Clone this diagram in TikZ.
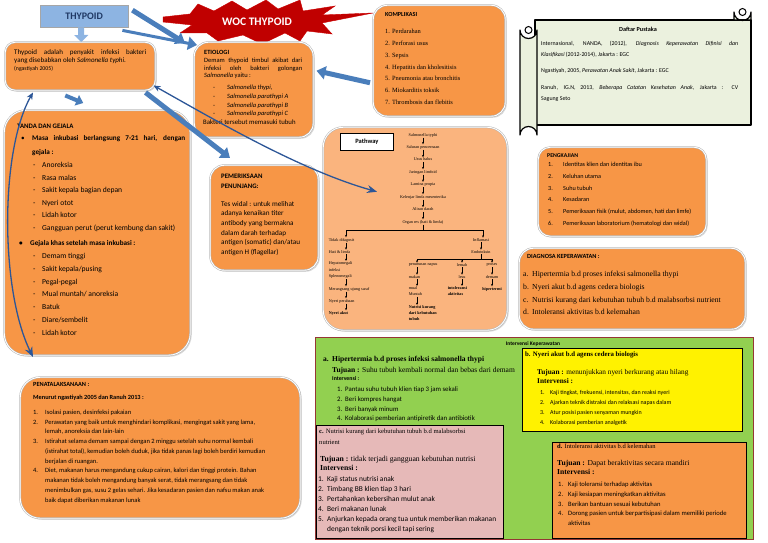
\documentclass[tikz,border=0pt]{standalone}
\usepackage{fontspec}
\setmainfont{Carlito}
\newfontfamily\tnr{Liberation Serif}
\usetikzlibrary{arrows.meta,calc,shadows}
\definecolor{orb}{HTML}{F79646}
\definecolor{orl}{HTML}{FAB47E}
\definecolor{grn}{HTML}{92D050}
\definecolor{pnk}{HTML}{E6B9B8}
\definecolor{scr}{HTML}{EBF1DE}
\definecolor{lblue}{HTML}{8DB4E2}
\definecolor{navy}{HTML}{1F3864}
\definecolor{ablue}{HTML}{4A7EBB}
\definecolor{dblue}{HTML}{2C5697}
\definecolor{wred}{HTML}{C00000}
\definecolor{frame}{HTML}{953735}
\newcommand{\myfs}[2]{\fontsize{#1}{#2}\selectfont}
\begin{document}
\begin{tikzpicture}[x=1pt,y=-1pt,
 obox/.style={draw=black!30, double=white, double distance=0.9pt, line width=0.5pt, fill=orb, rounded corners=#1, drop shadow={opacity=0.3,shadow xshift=1.5pt,shadow yshift=-1.5pt}, inner sep=0pt, anchor=north west},
 obox/.default=12pt,
 sbox/.style={draw=black, line width=0.8pt, inner sep=0pt, anchor=north west},
 tx/.style={anchor=north west, inner sep=0pt, align=left},
 blk/.style={line width=5pt, draw=ablue, -{Triangle[length=9pt,width=13pt]}},
 lbar/.style={line width=6pt, draw=lblue, -{Triangle[length=7pt,width=14pt]}},
 curv/.style={draw=dblue, line width=1.3pt, {Stealth[length=7pt,width=6pt]}-{Stealth[length=10pt,width=8pt]}},
 pw/.style={font=\tnr\myfs{4.2}{4.8}, inner sep=0.6pt, align=center},
 pwb/.style={font=\tnr\bfseries\myfs{4.2}{6}, inner sep=0.6pt, align=left},
 pa/.style={-{Stealth[length=2.4pt,width=2pt]}, line width=0.45pt},
 pl/.style={line width=0.45pt},
 scroll/.style={fill=scr, draw=black, line width=1.2pt, line join=round}
]
\useasboundingbox (0,0) rectangle (768,543);

% ---------- title boxes
\node[draw=black!35, fill=lblue, minimum width=88pt, minimum height=22pt, inner sep=0pt, anchor=north west, font=\bfseries\myfs{10}{12}, text=navy] (thy) at (40,5) {THYPOID};
\fill[wred, draw=red!80!black, line width=0.4pt] (163,17) -- (190,14) -- (198,4) -- (214,11) -- (232,1) -- (247,10) -- (266,0) -- (278,9) -- (300,0) -- (303,11) -- (335,6) -- (322,15) -- (373,13) -- (322,23) -- (332,34) -- (307,31) -- (300,41) -- (285,33) -- (262,44) -- (243,35) -- (218,41) -- (207,33) -- (180,33) -- (192,25) -- (163,22) -- cycle;
\node[font=\bfseries\myfs{11.5}{13}, text=white, inner sep=0pt] (woc) at (257,22) {WOC THYPOID};

% ---------- orange boxes
\node[obox=10pt, minimum width=150pt, minimum height=48pt] (def) at (5,42) {};
\node[obox=14pt, minimum width=119pt, minimum height=95pt] (etio) at (194,42) {};
\node[obox=14pt, minimum width=132pt, minimum height=111pt] (komp) at (373,5) {};
\node[obox=22pt, minimum width=186pt, minimum height=245pt] (tanda) at (4,110) {};
\node[obox=14pt, minimum width=108pt, minimum height=105pt] (pem) at (210,165) {};
\node[obox=20pt, fill=orl, minimum width=184pt, minimum height=203pt] (path) at (323,127) {};
\node[obox=12pt, minimum width=168pt, minimum height=89pt] (peng) at (538,147) {};
\node[obox=14pt, minimum width=226pt, minimum height=81pt] (diag) at (519,248) {};
\node[obox=20pt, minimum width=280pt, minimum height=141pt] (pena) at (20,377) {};

% ---------- scroll (Daftar Pustaka)
\filldraw[scroll] (535,20) -- (751,20) -- (751,125) -- (535,125) -- cycle;
\filldraw[scroll] (734,20) -- (734,12) arc (180:0:8.5) -- (751,20) -- cycle;
\draw[line width=1pt] (742.5,12) circle (3.5);
\filldraw[scroll] (520,30) arc (180:0:8.5) -- (537,135) arc (0:-180:8.5) -- cycle;
\draw[line width=1pt] (528.5,30) circle (3.5);
\node[font=\bfseries\myfs{6.2}{8}, inner sep=0pt] (dpH) at (638,29) {Daftar Pustaka};
\node[tx, font=\myfs{5.9}{10.7}] (dpL) at (541,41.2) {\makebox[197pt][s]{Internasional, NANDA, (2012), \textit{Diagnosis Keperawatan Difinisi dan}}\\ \textit{Klasifikasi} (2012-2014), Jakarta : EGC\\[5.5pt] Ngastiyah, 2005, \textit{Perawatan Anak Sakit}, Jakarta : EGC\\[6pt] \makebox[197pt][s]{Ranuh, IG.N, 2013, \textit{Beberapa Catatan Kesehatan Anak}, Jakarta : CV}\\ Sagung Seto};

% ---------- definition
\node[tx, font=\myfs{7}{8}] (defT) at (14,49.5) {\makebox[132pt][s]{Thypoid adalah penyakit infeksi bakteri}\\ yang disebabkan oleh \textit{Salmonella typhi}.\\ {\myfs{5.8}{8}(ngastiyah 2005)}};

% ---------- etiologi
\node[tx, font=\bfseries\myfs{6.4}{8}] (etH) at (204,50) {ETIOLOGI};
\node[tx, font=\myfs{6.5}{7.6}] (etP) at (204,58) {\makebox[98pt][s]{Demam thypoid timbul akibat dari}\\ \makebox[98pt][s]{infeksi oleh bakteri golongan}\\ \textit{Salmonella} yaitu :};
\node[tx, font=\itshape\myfs{6.5}{8.7}] (etL) at (213,85) {\makebox[14pt][l]{\upshape -}Salmonella thypi,\\ \makebox[14pt][l]{\upshape -}Salmonella parathypi A\\ \makebox[14pt][l]{\upshape -}Salmonella parathypi B\\ \makebox[14pt][l]{\upshape -}Salmonella parathypi C};
\node[tx, font=\myfs{6.8}{8}] (etE) at (203,120) {Bakteri tersebut memasuki tubuh};

% ---------- komplikasi
\node[tx, font=\bfseries\myfs{6.2}{8}] (kH) at (385,12) {KOMPLIKASI};
\node[tx, font=\tnr\myfs{6.4}{11.8}] (kL) at (385,29) {1. Perdarahan\\ 2. Perforasi usus\\ 3. Sepsis\\ 4. Hepatitis dan kholesitisis\\ 5. Pneumonia atau bronchitis\\ 6. Miokarditis toksik\\ 7. Thrombosis dan flebitis};

% ---------- tanda dan gejala
\node[tx, font=\bfseries\myfs{6.8}{8}] (tH) at (17,123.5) {TANDA DAN GEJALA};
\node[tx, font=\myfs{7.2}{14}] (tB1) at (21,135) {\makebox[11pt][l]{\textbullet}\textbf{\makebox[153pt][s]{Masa inkubasi berlangsung 7-21 hari, dengan}}\\ \hspace*{11pt}\textbf{gejala :}};
\node[tx, font=\myfs{7.6}{12.6}] (tL1) at (33,162) {\makebox[9pt][l]{-}Anoreksia\\ \makebox[9pt][l]{-}Rasa malas\\ \makebox[9pt][l]{-}Sakit kepala bagian depan\\ \makebox[9pt][l]{-}Nyeri otot\\ \makebox[9pt][l]{-}Lidah kotor\\ \makebox[9pt][l]{-}Gangguan perut (perut kembung dan sakit)};
\node[tx, font=\bfseries\myfs{7.2}{8}] (tB2) at (19,240) {\makebox[11pt][l]{\textbullet}Gejala khas setelah masa inkubasi :};
\node[tx, font=\myfs{7.6}{12.8}] (tL2) at (33,253) {\makebox[9pt][l]{-}Demam tinggi\\ \makebox[9pt][l]{-}Sakit kepala/pusing\\ \makebox[9pt][l]{-}Pegal-pegal\\ \makebox[9pt][l]{-}Mual muntah/ anoreksia\\ \makebox[9pt][l]{-}Batuk\\ \makebox[9pt][l]{-}Diare/sembelit\\ \makebox[9pt][l]{-}Lidah kotor};

% ---------- pemeriksaan
\node[tx, font=\bfseries\myfs{6.8}{10}] (pmH) at (221,173.5) {PEMERIKSAAN\\ PENUNJANG:};
\node[tx, font=\myfs{7.2}{9.6}] (pmT) at (221,201) {Tes widal : untuk melihat\\ adanya kenaikan titer\\ antibody yang bermakna\\ dalam darah terhadap\\ antigen (somatic) dan/atau\\ antigen H (flagellar)};

% ---------- pathway
\node[sbox, fill=white, minimum width=53pt, minimum height=17pt, font=\bfseries\myfs{6.5}{8}] (pwl) at (340,133) {Pathway};
\node[pw] (p1) at (423,135) {Salmonella typhi};
\node[pw] (p2) at (423,147) {Saluran pencernaan};
\node[pw] (p3) at (423,159.5) {Usus halus};
\node[pw] (p4) at (423,172) {Jaringan limfoid};
\node[pw] (p5) at (423,184.5) {Lamina propia};
\node[pw] (p6) at (423,197) {Kelenjar limfa mesenterika};
\node[pw] (p7) at (423,209.5) {Aliran darah};
\node[pw] (p8) at (423,222) {Organ res (hati \& limfa)};
\foreach \a/\b in {p1/p2,p2/p3,p3/p4,p4/p5,p5/p6,p6/p7,p7/p8} \draw[pa] (\a) -- (\b);
\coordinate (bj) at (423,230);
\coordinate (bl) at (346,230);
\coordinate (br) at (483,230);
\draw[pl] (p8) -- (bj);
\draw[pl] (bl) -- (br);
\node[pw, anchor=west] (l1) at (328,240) {Tidak difagosit};
\node[pw, anchor=west] (l2) at (328,252) {Hati \& limfa};
\node[pw, anchor=north west, align=left, font=\tnr\myfs{4.2}{6.5}] (l3) at (328,261) {Hepatomegali\\ infeksi\\ Splenomegali};
\node[pw, anchor=west] (l4) at (328,289) {Merangsang ujung saraf};
\node[pw, anchor=west] (l5) at (328,301) {Nyeri perabaan};
\node[pwb, anchor=west] (l6) at (328,313) {Nyeri akut};
\draw[pa] (bl) -- (bl |- l1.north);
\draw[pa] (l1.south -| bl) -- (l2.north -| bl);
\draw[pa] (l2.south -| bl) -- (l3.north -| bl);
\draw[pa] (l3.south -| bl) -- (l4.north -| bl);
\draw[pa] (l4.south -| bl) -- (l5.north -| bl);
\draw[pa] (l5.south -| bl) -- (l6.north -| bl);
\node[pw] (r1) at (481,240) {Inflamasi};
\node[pw] (r2) at (481,252) {Endotoksin};
\draw[pa] (br) -- (br |- r1.north);
\draw[pa] (r1) -- (r2);
\coordinate (ra) at (417,259);
\coordinate (rb) at (462,259);
\coordinate (rc) at (492,259);
\draw[pl] (r2.south) -- (r2.south |- ra);
\draw[pl] (ra) -- (rc);
\node[pw, anchor=west] (a1) at (408,265) {penurunan napsu};
\node[pw, anchor=west] (a2) at (408,277) {makan};
\node[pw, anchor=north west, align=left, font=\tnr\myfs{4.2}{6}] (a3) at (408,286) {mual\\ Muntah};
\node[pwb, anchor=north west] (a4) at (408,305) {Nutrisi kurang\\ dari kebutuhan\\ tubuh};
\draw[pa] (ra) -- (ra |- a1.north);
\draw[pa] (a1.south -| ra) -- (a2.north -| ra);
\draw[pa] (a2.south -| ra) -- (a3.north -| ra);
\draw[pa] (a3.south -| ra) -- (a4.north -| ra);
\node[pw] (b1) at (462,265) {lemah};
\node[pw] (b2) at (462,277) {lesu};
\node[pwb, anchor=north west] (b3) at (447,286) {intoleransi\\ aktivitas};
\draw[pa] (rb) -- (rb |- b1.north);
\draw[pa] (b1) -- (b2);
\draw[pa] (b2.south) -- (b2.south |- b3.north);
\node[pw] (c1) at (492,265) {proses};
\node[pw] (c2) at (492,277) {demam};
\node[pwb] (c3) at (492,289) {hipertermi};
\draw[pa] (rc) -- (rc |- c1.north);
\draw[pa] (c1) -- (c2);
\draw[pa] (c2) -- (c3);

% ---------- pengkajian
\node[tx, font=\bfseries\myfs{5.8}{7}] (pgH) at (547,153.5) {PENGKAJIAN};
\node[tx, font=\myfs{6.2}{11.8}] (pgL) at (548,162) {\makebox[15pt][l]{1.}Identitas klien dan identitas ibu\\ \makebox[15pt][l]{2.}Keluhan utama\\ \makebox[15pt][l]{3.}Suhu tubuh\\ \makebox[15pt][l]{4.}Kesadaran\\ \makebox[15pt][l]{5.}Pemeriksaan fisik (mulut, abdomen, hati dan limfe)\\ \makebox[15pt][l]{6.}Pemeriksaan laboratorium (hematologi dan widal)};

% ---------- diagnosa
\node[tx, font=\bfseries\myfs{6.3}{8}] (dgH) at (527,254) {DIAGNOSA KEPERAWATAN :};
\node[tx, font=\tnr\myfs{7.7}{12.7}] (dgL) at (523,271.2) {\makebox[9pt][l]{a.}Hipertermia b.d proses infeksi salmonella thypi\\ \makebox[9pt][l]{b.}Nyeri akut b.d agens cedera biologis\\ \makebox[9pt][l]{c.}Nutrisi kurang dari kebutuhan tubuh b.d malabsorbsi nutrient\\ \makebox[9pt][l]{d.}Intoleransi aktivitas b.d kelemahan};

% ---------- penatalaksanaan
\node[tx, font=\bfseries\myfs{6.3}{8}] (pnH) at (33,382) {PENATALAKSANAAN :};
\node[tx, font=\bfseries\myfs{6.3}{8}] (pnS) at (33,395) {Menurut ngastiyah 2005 dan Ranuh 2013 :};
\node[tx, font=\myfs{6.5}{9.75}] (pnL) at (33,409.7) {\makebox[12pt][l]{1.}Isolasi pasien, desinfeksi pakaian\\ \makebox[12pt][l]{2.}Perawatan yang baik untuk menghindari komplikasi, mengingat sakit yang lama,\\ \hspace*{12pt}lemah, anoreksia dan lain-lain\\ \makebox[12pt][l]{3.}Istirahat selama demam sampai dengan 2 minggu setelah suhu normal kembali\\ \hspace*{12pt}(istirahat total), kemudian boleh duduk, jika tidak panas lagi boleh berdiri kemudian\\ \hspace*{12pt}berjalan di ruangan.\\ \makebox[12pt][l]{4.}Diet, makanan harus mengandung cukup cairan, kalori dan tinggi protein. Bahan\\ \hspace*{12pt}makanan tidak boleh mengandung banyak serat, tidak merangsang dan tidak\\ \hspace*{12pt}menimbulkan gas, susu 2 gelas sehari. Jika kesadaran pasien dan nafsu makan anak\\ \hspace*{12pt}baik dapat diberikan makanan lunak};

% ---------- intervensi
\node[draw=frame, line width=1.2pt, fill=grn, minimum width=438pt, minimum height=202pt, inner sep=0pt, anchor=north west] (intv) at (315,337) {};
\node[font=\bfseries\myfs{5.5}{7}, inner sep=0pt] (ivT) at (533,344) {Intervensi Keperawatan};
\node[tx, font=\tnr\bfseries\myfs{7.5}{9}] (iaH) at (323,356.3) {\makebox[9pt][l]{a.}Hipertermia b.d proses infeksi salmonella thypi};
\node[tx, font=\tnr\myfs{7.5}{9}] (iaT) at (332,367.3) {\textbf{Tujuan :} Suhu tubuh kembali normal dan bebas dari demam};
\node[tx, font=\bfseries\myfs{5.8}{7}] (iaI) at (332,376.2) {Intervensi :};
\node[tx, font=\myfs{6.8}{9.7}] (iaL) at (337,386.8) {\makebox[8pt][l]{1.}Pantau suhu tubuh klien tiap 3 jam sekali\\ \makebox[8pt][l]{2.}Beri kompres hangat\\ \makebox[8pt][l]{3.}Beri banyak minum\\ \makebox[8pt][l]{4.}Kolaborasi pemberian antipiretik dan antibiotik};

\node[sbox, fill=yellow, minimum width=220pt, minimum height=83pt] (bxb) at (522,348) {};
\node[tx, font=\tnr\bfseries\myfs{6.8}{9}] (ibH) at (525,351.8) {b. Nyeri akut b.d agens cedera biologis};
\node[tx, font=\tnr\myfs{7.3}{9}] (ibT) at (537,369.3) {\textbf{Tujuan :} menunjukkan nyeri berkurang atau hilang\\ \textbf{Intervensi :}};
\node[tx, font=\myfs{6}{10}] (ibL) at (540,390) {\makebox[10pt][l]{1.}Kaji tingkat, frekuensi, intensitas, dan reaksi nyeri\\ \makebox[10pt][l]{2.}Ajarkan teknik distraksi dan relaksasi napas dalam\\ \makebox[10pt][l]{3.}Atur posisi pasien senyaman mungkin\\ \makebox[10pt][l]{4.}Kolaborasi pemberian analgetik};

\node[sbox, fill=pnk, minimum width=187pt, minimum height=113pt] (bxc) at (316,425) {};
\node[tx, font=\tnr\myfs{6.6}{11}] (icH) at (319,428.6) {\textbf{c.} Nutrisi kurang dari kebutuhan tubuh b.d malabsorbsi\\ nutrient};
\node[tx, font=\tnr\myfs{7.7}{9}] (icT) at (320,456.2) {\textbf{Tujuan :} tidak terjadi gangguan kebutuhan nutrisi\\ \textbf{Intervensi :}};
\node[tx, font=\myfs{7.4}{10}] (icL) at (318,476.6) {\makebox[9pt][l]{1.}Kaji status nutrisi anak\\ \makebox[9pt][l]{2.}Timbang BB klien tiap 3 hari\\ \makebox[9pt][l]{3.}Pertahankan kebersihan mulut anak\\ \makebox[9pt][l]{4.}Beri makanan lunak\\ \makebox[9pt][l]{5.}Anjurkan kepada orang tua untuk memberikan makanan\\ \hspace*{9pt}dengan teknik porsi kecil tapi sering};

\node[sbox, fill=orb, minimum width=194pt, minimum height=96pt] (bxd) at (552,442) {};
\node[tx, font=\tnr\myfs{6.5}{9}] (idH) at (557,443.8) {\textbf{d.} Intoleransi aktivitas b.d kelemahan};
\node[tx, font=\tnr\myfs{7.6}{9}] (idT) at (557,460.2) {\textbf{Tujuan :} Dapat beraktivitas secara mandiri\\ \textbf{Intervensi :}};
\node[tx, font=\myfs{6.6}{9.75}] (idL) at (558,481.8) {\makebox[10pt][l]{1.}Kaji toleransi terhadap aktivitas\\ \makebox[10pt][l]{2.}Kaji kesiapan meningkatkan aktivitas\\ \makebox[10pt][l]{3.}Berikan bantuan sesuai kebutuhan\\ \makebox[10pt][l]{4.}Dorong pasien untuk berpartisipasi dalam memiliki periode\\ \hspace*{10pt}aktivitas};

% ---------- connectors
\draw[lbar] ($(thy.south)+(-3,0)$) -- ($(def.north)+(1,0)$);
\draw[blk] ($(thy.east)+(4,-6)$) -- ($(etio.north west)+(-9,1)$);
\draw[blk, line width=3pt] ($(thy.south east)+(-6,3)$) -- ($(etio.north west)+(3,3)$);
\draw[blk] ($(komp.west)+(-3,22)$) -- ($(etio.east)+(3,-19)$);
\draw[blk, line width=4pt, -{Triangle[length=7pt,width=11pt]}] ($(def.south)+(-15,5)$) -- ($(tanda.north)+(-14,-7)$);
\draw[blk] ($(def.south east)+(-10,2)$) -- ($(pem.north west)+(20,-7)$);
\draw[curv] ($(def.south east)+(-2,-5)$) .. controls (215,120) and (300,170) .. ($(path.west)+(54,-37)$);
\draw[curv] ($(def.south west)+(28,2)$) .. controls (0,150) and (0,290) .. ($(pena.north west)+(13,-20)$);
\end{tikzpicture}
\end{document}
